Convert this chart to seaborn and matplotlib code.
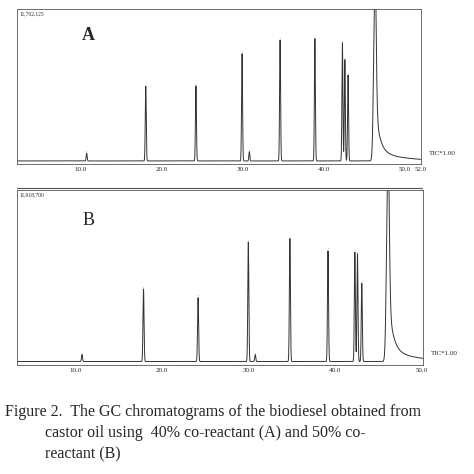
import numpy as np
import pandas as pd
import seaborn as sns
import matplotlib.pyplot as plt

# peak retention times (min) and relative heights
times_a = [10.7, 18.0, 24.2, 29.9, 30.8, 34.6, 38.9, 42.3, 42.6, 43.0, 46.3]
heights_a = [0.05, 0.49, 0.49, 0.70, 0.06, 0.79, 0.80, 0.77, 0.66, 0.56, 1.05]
times_b = [10.8, 17.9, 24.2, 30.0, 30.8, 34.8, 39.2, 42.3, 42.6, 43.1, 46.1]
heights_b = [0.04, 0.42, 0.37, 0.69, 0.04, 0.71, 0.64, 0.63, 0.62, 0.45, 1.05]
max_a = "11,702,125"
max_b = "11,918,700"
caption = ("Figure 2.  The GC chromatograms of the biodiesel obtained from\n"
           "          castor oil using  40% co-reactant (A) and 50% co-\n"
           "          reactant (B)")

sns.set_style("white")
plt.rcParams["font.family"] = ["Liberation Serif", "DejaVu Serif"]


def trace(times, heights, t0, t1):
    t = np.linspace(t0, t1, 3000)
    y = np.full_like(t, 0.01)
    for i, (c, h) in enumerate(zip(times, heights)):
        w = 0.06 if i < len(times) - 1 else 0.15
        y += h * np.exp(-0.5 * ((t - c) / w) ** 2)
    # tailing of the last big peak
    c = times[-1]
    y += np.where(t > c, 0.35 * np.exp(-(t - c) / 0.5) + 0.07 * np.exp(-(t - c) / 3), 0)
    return pd.DataFrame({"t": t, "y": y})


fig = plt.figure(figsize=(4.74, 4.74), dpi=100)
panels = [
    (times_a, heights_a, 2.1, 52.0, [10, 20, 30, 40, 50, 52], max_a, "A", [0.036, 0.654, 0.852, 0.327]),
    (times_b, heights_b, 3.3, 50.2, [10, 20, 30, 40, 50], max_b, "B", [0.036, 0.230, 0.857, 0.370]),
]
for times, heights, t0, t1, ticks, mx, lab, pos in panels:
    ax = fig.add_axes(pos)
    df = trace(times, heights, t0, t1)
    sns.lineplot(data=df, x="t", y="y", ax=ax, color="#333333", linewidth=0.7)
    for c, h in zip(times[:-1], heights[:-1]):
        ax.text(c, h + 0.01, "'", fontsize=3, ha="center", color="#555555")
    ax.set_xlim(t0, t1)
    ax.set_ylim(-0.01, 1.0)
    ax.set_xticks(ticks)
    ax.set_xticklabels([f"{v:.1f}" for v in ticks], fontsize=5)
    ax.set_xticks(np.arange(np.ceil(t0), t1, 1), minor=True)
    ax.tick_params(axis="x", which="both", direction="in", length=2, pad=2)
    ax.tick_params(axis="x", which="minor", length=1)
    ax.set_yticks([])
    ax.set_xlabel("")
    ax.set_ylabel("")
    for s in ax.spines.values():
        s.set_linewidth(0.6)
        s.set_color("#555555")
    ax.text(0.005, 0.985, mx, transform=ax.transAxes, fontsize=4, va="top")
    ax.text(0.16, 0.8, lab, transform=ax.transAxes, fontsize=13, fontweight="bold" if lab == "A" else "normal")
    ax.text(1.02, 0.05, "TIC*1.00", transform=ax.transAxes, fontsize=5, va="bottom")

fig.add_artist(plt.Line2D([0.036, 0.89], [0.603, 0.603], color="#555555", lw=0.8))
fig.text(0.01, 0.148, caption, fontsize=11.5, va="top", linespacing=1.45)
fig.savefig("out.png", dpi=100)
